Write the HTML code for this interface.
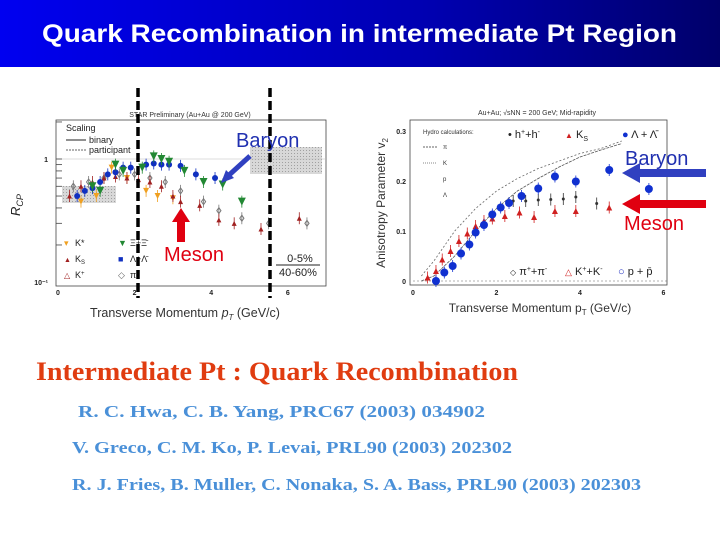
<!DOCTYPE html>
<html><head><meta charset="utf-8"><style>
html,body{margin:0;padding:0;background:#fff;}
svg{display:block;font-family:"Liberation Sans",sans-serif;}
</style></head><body>
<svg id="slide" width="720" height="540" viewBox="0 0 720 540">
<defs>
<linearGradient id="hdr" x1="0" x2="1" y1="0" y2="0"><stop offset="0" stop-color="#0000f0"/><stop offset="0.6" stop-color="#0000b0"/><stop offset="1" stop-color="#00006a"/></linearGradient>
<pattern id="hatch" width="3" height="3" patternUnits="userSpaceOnUse"><rect width="3" height="3" fill="#d8d8d8"/><rect width="1" height="1" fill="#a0a0a0"/></pattern>
</defs>
<rect x="0" y="0" width="720" height="67" fill="url(#hdr)"/>
<text x="42" y="42" font-size="25" font-weight="bold" fill="#fff" textLength="635" lengthAdjust="spacingAndGlyphs">Quark Recombination in intermediate Pt Region</text>

<g id="left">
<text x="190" y="117" font-size="7" fill="#333" text-anchor="middle">STAR Preliminary (Au+Au @ 200 GeV)</text>
<rect x="56" y="120" width="270" height="166" fill="none" stroke="#444" stroke-width="0.8"/>
<rect x="62" y="186" width="54" height="17" fill="url(#hatch)"/>
<rect x="250" y="147" width="72" height="27" fill="url(#hatch)"/>
<line x1="56" y1="159" x2="326" y2="159" stroke="#bbb" stroke-width="0.6"/>
<text x="66" y="131" font-size="9" fill="#222">Scaling</text>
<line x1="66" y1="140" x2="86" y2="140" stroke="#222"/>
<text x="89" y="143" font-size="9" fill="#222">binary</text>
<line x1="66" y1="150" x2="86" y2="150" stroke="#666" stroke-dasharray="2,1"/>
<text x="89" y="153" font-size="9" fill="#222">participant</text>
<text x="48" y="162" font-size="7" font-weight="bold" fill="#222" text-anchor="end">1</text>
<text x="48" y="285" font-size="7" font-weight="bold" fill="#222" text-anchor="end">10⁻¹</text>
<text x="20" y="205" font-size="13" font-style="italic" fill="#222" transform="rotate(-90 20 205)" text-anchor="middle">R<tspan font-size="9" dy="3">CP</tspan></text>
<text x="185" y="317" font-size="12.5" fill="#333" text-anchor="middle">Transverse Momentum <tspan font-style="italic">p<tspan font-size="8" dy="3">T</tspan></tspan><tspan dy="-3"> (GeV/c)</tspan></text>
<g id="lticks"></g><g id="lmarks"></g>
<g font-size="9" fill="#222">
<text x="64" y="246" fill="#f0a020">▾</text><text x="75" y="246">K*</text>
<text x="64" y="262" fill="#a02020" font-size="7">▲</text><text x="75" y="262">K<tspan font-size="6" dy="2">S</tspan></text>
<text x="64" y="278" fill="#a02020" font-size="8">△</text><text x="75" y="278">K<tspan font-size="6" dy="-3">+</tspan></text>
<text x="118" y="246" fill="#228833">▼</text><text x="130" y="246">Ξ+Ξ̄</text>
<text x="118" y="262" fill="#1030c0">■</text><text x="130" y="262">Λ+Λ̄</text>
<text x="118" y="278" fill="#666">◇</text><text x="130" y="278">π</text>
</g>
<text x="300" y="262" font-size="11" fill="#222" text-anchor="middle">0-5%</text>
<line x1="276" y1="265" x2="320" y2="265" stroke="#222"/>
<text x="298" y="276" font-size="11" fill="#222" text-anchor="middle">40-60%</text>
<line x1="138" y1="88" x2="138" y2="298" stroke="#000" stroke-width="3.5" stroke-dasharray="9,4"/>
<line x1="270" y1="88" x2="270" y2="298" stroke="#000" stroke-width="3.5" stroke-dasharray="9,4"/>
<text x="236" y="147" font-size="20" fill="#2030b0">Baryon</text>
<path d="M250,156 L228,176" stroke="#3040c0" stroke-width="5" fill="none"/>
<polygon points="221,183 226,170 234,178" fill="#3040c0"/>
<text x="164" y="261" font-size="20" fill="#e00010">Meson</text>
<rect x="177" y="220" width="8" height="22" fill="#e00010"/>
<polygon points="172,222 190,222 181,208" fill="#e00010"/>
</g>

<g id="right">
<text x="537" y="115" font-size="7" fill="#333" text-anchor="middle">Au+Au; √sNN = 200 GeV; Mid-rapidity</text>
<rect x="410" y="120" width="257" height="165" fill="none" stroke="#444" stroke-width="0.8"/>
<line x1="413" y1="281" x2="667" y2="281" stroke="#666" stroke-width="0.6" stroke-dasharray="2,2"/>
<text x="385" y="203" font-size="12" fill="#333" transform="rotate(-90 385 203)" text-anchor="middle">Anisotropy Parameter v<tspan font-size="8" dy="3">2</tspan></text>
<text x="540" y="312" font-size="12" fill="#333" text-anchor="middle">Transverse Momentum p<tspan font-size="8" dy="3">T</tspan><tspan dy="-3"> (GeV/c)</tspan></text>
<g font-size="6" fill="#333">
<text x="423" y="134">Hydro calculations:</text>
<line x1="423" y1="147" x2="437" y2="147" stroke="#666" stroke-dasharray="2,1"/><text x="443" y="149">π</text>
<line x1="423" y1="163" x2="437" y2="163" stroke="#888" stroke-dasharray="1,1"/><text x="443" y="165">K</text>
<text x="443" y="181">p</text><text x="443" y="197">Λ</text>
</g>
<g font-size="11" fill="#222">
<text x="508" y="138">• h<tspan font-size="7" dy="-4">+</tspan><tspan dy="4">+h</tspan><tspan font-size="7" dy="-4">-</tspan></text>
<text x="565" y="138"><tspan fill="#d02020" font-size="8">▲</tspan> K<tspan font-size="7" dy="3">S</tspan></text>
<text x="622" y="138"><tspan fill="#1030d0">●</tspan> Λ + Λ̄</text>
<text x="510" y="275"><tspan font-size="8">◇</tspan> π<tspan font-size="7" dy="-4">+</tspan><tspan dy="4">+π</tspan><tspan font-size="7" dy="-4">-</tspan></text>
<text x="565" y="275"><tspan fill="#d02020" font-size="9">△</tspan> K<tspan font-size="7" dy="-4">+</tspan><tspan dy="4">+K</tspan><tspan font-size="7" dy="-4">-</tspan></text>
<text x="618" y="275"><tspan fill="#2030c0">○</tspan> p + p̄</text>
</g>
<g id="rticks"></g><g id="rmarks"></g>
<text x="625" y="165" font-size="20" fill="#2030b0">Baryon</text>
<rect x="636" y="169" width="70" height="8" fill="#3040c0"/>
<polygon points="622,173 640,163 640,183" fill="#3040c0"/>
<text x="624" y="230" font-size="20" fill="#e00010">Meson</text>
<rect x="636" y="200" width="70" height="8" fill="#e00010"/>
<polygon points="622,204 640,194 640,214" fill="#e00010"/>
</g>

<text x="36" y="380" font-family="Liberation Serif, serif" font-size="26" font-weight="bold" fill="#e03c10" textLength="482" lengthAdjust="spacingAndGlyphs">Intermediate Pt : Quark Recombination</text>
<g font-family="Liberation Serif, serif" font-size="17" font-weight="bold" fill="#4a90d8">
<text x="78" y="417" textLength="407" lengthAdjust="spacingAndGlyphs">R. C. Hwa, C. B. Yang,  PRC67 (2003) 034902</text>
<text x="72" y="453" textLength="440" lengthAdjust="spacingAndGlyphs">V. Greco, C. M. Ko, P. Levai, PRL90 (2003) 202302</text>
<text x="72" y="490" textLength="569" lengthAdjust="spacingAndGlyphs">R. J. Fries, B. Muller, C. Nonaka, S. A. Bass, PRL90 (2003) 202303</text>
</g>
</svg>
<script>
// Left chart (RCP) data
const lXTicks = [0, 2, 4, 6];
const lYMinor = [0.2, 0.3, 0.4, 0.5, 0.6, 0.7, 0.8, 0.9, 1, 2];
const lambdaPt = [0.5,0.7,0.9,1.1,1.3,1.5,1.7,1.9,2.3,2.5,2.7,2.9,3.2,3.6,4.1];
const lambdaRcp = [0.5,0.55,0.58,0.65,0.75,0.78,0.85,0.85,0.9,0.92,0.9,0.9,0.88,0.75,0.7];
const xiPt = [0.9,1.1,1.5,1.7,2.2,2.5,2.7,2.9,3.3,3.8,4.3,4.8];
const xiRcp = [0.6,0.55,0.9,0.8,0.85,1.05,1.0,0.95,0.8,0.65,0.62,0.45];
const ksPt = [0.3,0.6,0.9,1.2,1.5,1.8,2.1,2.4,2.7,3.0,3.2,3.7,4.2,4.6,5.3,6.3];
const ksRcp = [0.5,0.6,0.65,0.7,0.72,0.7,0.68,0.65,0.6,0.5,0.45,0.42,0.32,0.3,0.27,0.33];
const kstarPt = [0.6,1.0,1.4,1.8,2.3,2.6,3.0];
const kstarRcp = [0.45,0.5,0.85,0.7,0.55,0.5,0.48];
const piPt = [0.4,0.8,1.2,1.6,2.0,2.4,2.8,3.2,3.8,4.2,4.8,5.5,6.5];
const piRcp = [0.6,0.65,0.7,0.75,0.75,0.7,0.65,0.55,0.45,0.38,0.33,0.3,0.3];
// Right chart (v2) data
const rXTicks = [0, 2, 4, 6];
const rYTicks = [0, 0.1, 0.2, 0.3];
const lamV2Pt = [0.55,0.75,0.95,1.15,1.35,1.5,1.7,1.9,2.1,2.3,2.6,3.0,3.4,3.9,4.7,5.65];
const lamV2 = [0,0.017,0.03,0.055,0.073,0.097,0.112,0.133,0.147,0.156,0.17,0.185,0.209,0.199,0.222,0.184];
const ksV2Pt = [0.35,0.55,0.7,0.9,1.1,1.3,1.5,1.7,1.9,2.2,2.55,2.9,3.4,3.9,4.7];
const ksV2 = [0.007,0.02,0.043,0.06,0.08,0.095,0.11,0.12,0.125,0.13,0.137,0.128,0.14,0.14,0.147];
const hV2Pt = [2.4,2.7,3.0,3.3,3.6,3.9,4.4];
const hV2 = [0.16,0.16,0.162,0.163,0.164,0.168,0.155];
const hydroPt = [0.2,0.5,1.0,1.5,2.0,2.5,3.0,3.5,4.0,4.5,5.0];
const hydroPi = [0.01,0.04,0.1,0.145,0.18,0.205,0.225,0.24,0.255,0.265,0.28];
const hydroP = [0,0.01,0.05,0.1,0.145,0.18,0.205,0.228,0.248,0.262,0.275];

const NS = 'http://www.w3.org/2000/svg';
function mk(parent, tag, attrs){const e=document.createElementNS(NS,tag);for(const k in attrs)e.setAttribute(k,attrs[k]);document.getElementById(parent).appendChild(e);return e;}
const lx = v => 58 + 38.3*v;
const ly = v => 159 - 123*Math.log10(v);
const rx = v => 413 + 41.75*v;
const ry = v => 281 - 500*v;

lXTicks.forEach(t=>{
  const tx=mk('lticks','text',{x:lx(t),y:295,'font-size':7,'font-weight':'bold','text-anchor':'middle',fill:'#222'});
  tx.textContent=t;
  
  
});
lYMinor.forEach(t=>{
  const tk=mk('lticks','line',{x1:56,x2:62,y1:ly(t),y2:ly(t),stroke:'#444','stroke-width':0.8});
  
  
});
rXTicks.forEach(t=>{
  const tx=mk('rticks','text',{x:rx(t),y:295,'font-size':7,'font-weight':'bold','text-anchor':'middle',fill:'#222'});
  tx.textContent=t;
  
  
});
rYTicks.forEach(t=>{
  const tx=mk('rticks','text',{x:406,y:ry(t)+3,'font-size':7,'font-weight':'bold','text-anchor':'end',fill:'#222'});
  tx.textContent=t===0?'0':t.toFixed(1);
  
  
});

function pts(g, xs, ys, fx, fy, shape, color, r, name){
  xs.forEach((x,i)=>{
    const cx=fx(x), cy=fy(ys[i]);
    const bar=mk(g,'line',{x1:cx,y1:cy-6,x2:cx,y2:cy+6,stroke:color,'stroke-width':0.8});
    
    
    let e;
    if(shape==='circle') e=mk(g,'circle',{cx:cx,cy:cy,r:r,fill:color});
    else if(shape==='ocircle') e=mk(g,'circle',{cx:cx,cy:cy,r:r,fill:'none',stroke:color});
    else if(shape==='tri') e=mk(g,'polygon',{points:`${cx-r},${cy+r} ${cx+r},${cy+r} ${cx},${cy-r}`,fill:color});
    else if(shape==='dtri') e=mk(g,'polygon',{points:`${cx-r},${cy-r} ${cx+r},${cy-r} ${cx},${cy+r}`,fill:color});
    else e=mk(g,'polygon',{points:`${cx},${cy-r} ${cx+r*0.7},${cy} ${cx},${cy+r} ${cx-r*0.7},${cy}`,fill:'none',stroke:color});
    
    
  });
}
pts('lmarks', piPt, piRcp, lx, ly, 'diamond', '#777', 3, 'pion');
pts('lmarks', kstarPt, kstarRcp, lx, ly, 'dtri', '#f0a020', 3, 'kstar');
pts('lmarks', ksPt, ksRcp, lx, ly, 'tri', '#a02020', 2.5, 'kshort');
pts('lmarks', lambdaPt, lambdaRcp, lx, ly, 'circle', '#1030c0', 3, 'lambda');
pts('lmarks', xiPt, xiRcp, lx, ly, 'dtri', '#228833', 4, 'xi');

function curve(xs, ys, dash, color, name){
  const d = xs.map((x,i)=>(i?'L':'M')+rx(x)+','+ry(ys[i])).join(' ');
  const p = mk('rmarks','path',{d:d,fill:'none',stroke:color,'stroke-width':0.8,'stroke-dasharray':dash});
  
  
}
curve(hydroPt, hydroPi, '2,2', '#666', 'hydro-pion-curve');
curve(hydroPt, hydroP, '3,1', '#555', 'hydro-proton-curve');
pts('rmarks', ksV2Pt, ksV2, rx, ry, 'tri', '#d02020', 3, 'kshort-v2');
pts('rmarks', hV2Pt, hV2, rx, ry, 'circle', '#333', 1.5, 'hadron-v2');
pts('rmarks', lamV2Pt, lamV2, rx, ry, 'circle', '#1030d0', 4, 'lambda-v2');
</script>
</body></html>
